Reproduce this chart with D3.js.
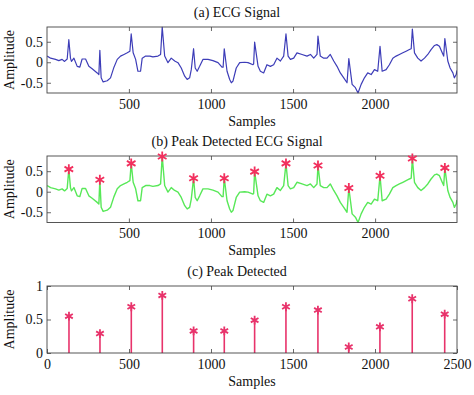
<!DOCTYPE html>
<html>
<head>
<meta charset="utf-8">
<script src="https://cdn.jsdelivr.net/npm/d3@7"></script>
<style>
  html, body { margin: 0; padding: 0; background: #fff; }
  svg { display: block; }
  text { font-family: "Liberation Serif", "Times New Roman", serif; fill: #111; }
</style>
</head>
<body>
<svg id="chart" width="474" height="395"></svg>
<script>
// ---------------- DATA ----------------
const titles = ["(a) ECG Signal", "(b) Peak Detected ECG Signal", "(c) Peak Detected"];
const xLabel = "Samples";
const yLabel = "Amplitude";

// ECG signal vertices (sample index, amplitude)
const signalSamples = [
  2, 23, 53, 73, 93, 108, 124, 134, 144, 150, 165, 185, 201, 215, 236, 256, 276, 307, 317, 323,
  331, 343, 368, 388, 409, 429, 449, 470, 490, 506, 514, 526, 541, 555, 571, 581, 602, 628,
  646, 677, 693, 703, 718, 738, 758, 779, 799, 819, 840, 855, 870, 880, 894, 904, 916, 931,
  951, 982, 1012, 1043, 1067, 1074, 1081, 1098, 1114, 1124, 1134, 1154, 1175, 1205, 1226, 1256,
  1260, 1266, 1287, 1301, 1321, 1341, 1362, 1382, 1402, 1423, 1443, 1457, 1470, 1484, 1504,
  1524, 1555, 1585, 1606, 1626, 1646, 1652, 1666, 1687, 1707, 1727, 1748, 1768, 1788, 1809,
  1829, 1840, 1860, 1880, 1896, 1915, 1935, 1955, 1976, 1996, 2016, 2030, 2043, 2067, 2087,
  2108, 2128, 2148, 2169, 2189, 2209, 2220, 2227, 2240, 2260, 2280, 2301, 2321, 2341, 2362,
  2376, 2392, 2409, 2418, 2425, 2443, 2457, 2474, 2483, 2494, 2499
];
const signalAmplitudes = [
  0.15, 0.10, 0.07, 0.04, 0.07, 0.02, 0.08, 0.55, 0.10, 0.02, 0.10, -0.10, -0.12, 0.08, 0.08, -0.10, -0.16, -0.26, -0.30, 0.29,
  -0.38, -0.48, -0.45, -0.38, -0.12, 0.07, 0.15, 0.19, 0.23, 0.27, 0.69, 0.23, 0.07, -0.22, -0.22, 0.10, 0.15, 0.15,
  0.13, 0.15, 0.19, 0.86, 0.15, -0.01, 0.10, 0.03, -0.01, -0.14, -0.34, -0.42, -0.38, -0.18, 0.33, -0.14, -0.22, -0.10,
  0.07, 0.07, 0.04, -0.01, -0.12, -0.12, 0.33, -0.22, -0.42, -0.50, -0.46, -0.14, -0.01, 0.00, -0.01, -0.06,
  -0.04, 0.49, -0.10, -0.22, -0.26, -0.06, -0.10, -0.06, 0.10, 0.03, 0.15, 0.69, 0.15, 0.07, 0.10,
  0.23, 0.19, 0.15, 0.19, 0.10, 0.19, 0.64, 0.15, 0.10, 0.10, 0.19, 0.03, -0.10, -0.26, -0.38,
  -0.50, 0.09, -0.54, -0.62, -0.75, -0.54, -0.38, -0.26, -0.30, -0.18, -0.22, 0.39, -0.22, -0.18, -0.06,
  0.10, 0.15, 0.19, 0.23, 0.27, 0.31, 0.33, 0.81, 0.23, 0.10, 0.03, 0.10, 0.19, 0.31, 0.41,
  0.43, 0.39, 0.23, 0.15, 0.58, 0.03, -0.14, -0.26, -0.38, -0.30, -0.20
];

// detected R peaks
const peakSamples = [134, 323, 514, 703, 894, 1081, 1266, 1457, 1652, 1840, 2030, 2227, 2425];
const peakValues  = [0.55, 0.29, 0.69, 0.86, 0.33, 0.33, 0.49, 0.69, 0.64, 0.09, 0.39, 0.81, 0.58];

// ticks
const xTicksAB = [500, 1000, 1500, 2000];
const xTicksC  = [0, 500, 1000, 1500, 2000, 2500];
const yTicksAB = [-0.5, 0, 0.5];
const yTicksC  = [0, 0.5, 1];
const yTickLabelsAB = ["-0.5", "0", "0.5"];
const yTickLabelsC  = ["0", "0.5", "1"];

// ---------------- DRAW ----------------
const svg = d3.select("#chart");
const left = 47, right = 457;

const panels = [
  { top: 27,  bottom: 93,  xDomain: [1, 2499], yDomain: [-0.75, 0.86], xTicks: xTicksAB, yTicks: yTicksAB, yLabels: yTickLabelsAB },
  { top: 156, bottom: 222.5, xDomain: [1, 2499], yDomain: [-0.75, 0.87], xTicks: xTicksAB, yTicks: yTicksAB, yLabels: yTickLabelsAB },
  { top: 286, bottom: 353, xDomain: [0, 2500], yDomain: [0, 1], xTicks: xTicksC, yTicks: yTicksC, yLabels: yTickLabelsC }
];

const signal = signalSamples.map((s, i) => ({ s, a: signalAmplitudes[i] }));
const peaks = peakSamples.map((s, i) => ({ s, a: peakValues[i] }));

const axisColor = "#444";

panels.forEach((p, idx) => {
  const x = d3.scaleLinear().domain(p.xDomain).range([left, right]);
  const y = d3.scaleLinear().domain(p.yDomain).range([p.bottom, p.top]);
  p.x = x; p.y = y;
  const g = svg.append("g");

  // data
  const clipId = "clip" + idx;
  svg.append("clipPath").attr("id", clipId).append("rect")
    .attr("x", left).attr("y", p.top - 0.5).attr("width", right - left).attr("height", p.bottom - p.top + 1);

  const plot = g.append("g").attr("clip-path", `url(#${clipId})`);
  const line = d3.line().x(d => x(d.s)).y(d => y(d.a));

  if (idx === 0) {
    plot.append("path").datum(signal).attr("d", line)
      .attr("fill", "none").attr("stroke", "#3d3db8").attr("stroke-width", 1.2)
      .attr("stroke-linejoin", "round");
  } else if (idx === 1) {
    plot.append("path").datum(signal).attr("d", line)
      .attr("fill", "none").attr("stroke", "#58e858").attr("stroke-width", 1.4)
      .attr("stroke-linejoin", "round");
  } else {
    plot.selectAll("line.stem").data(peaks).join("line")
      .attr("x1", d => x(d.s)).attr("x2", d => x(d.s))
      .attr("y1", y(0)).attr("y2", d => y(d.a))
      .attr("stroke", "#e8336b").attr("stroke-width", 1.6);
  }

  // axes with inward ticks
  const tickLen = 4;
  const xAxis = d3.axisBottom(x).tickValues(p.xTicks).tickSizeInner(-tickLen).tickSizeOuter(0).tickPadding(6)
    .tickFormat(d3.format("d"));
  const gx = g.append("g").attr("transform", `translate(0,${p.bottom})`).call(xAxis);
  const yAxis = d3.axisLeft(y).tickValues(p.yTicks).tickSizeInner(-tickLen).tickSizeOuter(0).tickPadding(4)
    .tickFormat((d, i) => p.yLabels[i]);
  const gy = g.append("g").attr("transform", `translate(${left},0)`).call(yAxis);
  const gxt = g.append("g").attr("transform", `translate(0,${p.top})`)
    .call(d3.axisTop(x).tickValues(p.xTicks).tickSizeInner(-tickLen).tickSizeOuter(0).tickFormat(""));
  const gyr = g.append("g").attr("transform", `translate(${right},0)`)
    .call(d3.axisRight(y).tickValues(p.yTicks).tickSizeInner(-tickLen).tickSizeOuter(0).tickFormat(""));

  [gx, gy, gxt, gyr].forEach(a => {
    a.select(".domain").remove();
    a.selectAll(".tick line").attr("stroke", axisColor).attr("stroke-width", 0.8);
    a.selectAll("text").attr("font-size", 14).attr("fill", "#111")
      .attr("font-family", "'Liberation Serif', 'Times New Roman', serif");
  });

  // frame
  g.append("rect").attr("x", left).attr("y", p.top)
    .attr("width", right - left).attr("height", p.bottom - p.top)
    .attr("fill", "none").attr("stroke", axisColor).attr("stroke-width", 0.9);

  // markers
  if (idx >= 1) {
    const sym = d3.symbol().type(d3.symbolAsterisk).size(idx === 1 ? 70 : 55);
    g.selectAll("path.mk").data(peaks).join("path")
      .attr("transform", d => `translate(${x(d.s)},${y(d.a)})`)
      .attr("d", sym)
      .attr("fill", "none")
      .attr("stroke", idx === 1 ? "#f2305e" : "#e8336b")
      .attr("stroke-width", 1.8);
  }

  // labels
  g.append("text").attr("x", 237).attr("y", p.top - 15).attr("text-anchor", "middle")
    .attr("dominant-baseline", "central").attr("font-size", 14).text(titles[idx]);
  g.append("text").attr("x", (left + right) / 2).attr("y", p.bottom + 28).attr("text-anchor", "middle")
    .attr("dominant-baseline", "central").attr("font-size", 14).text(xLabel);
  g.append("text").attr("transform", `translate(9,${(p.top + p.bottom) / 2}) rotate(-90)`)
    .attr("text-anchor", "middle").attr("dominant-baseline", "central")
    .attr("font-size", 14).text(yLabel);
});
</script>
</body>
</html>
